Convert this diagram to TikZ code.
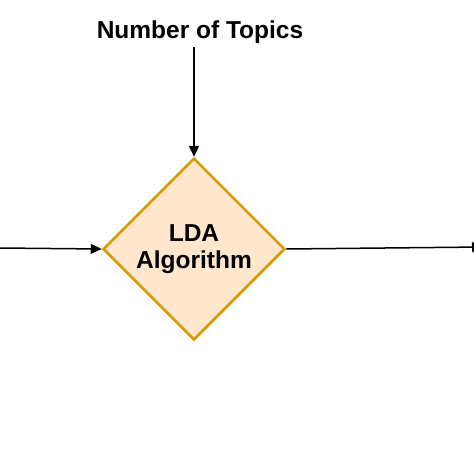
\documentclass[tikz,border=0pt]{standalone}
\usepackage{fontspec}
\setmainfont{Liberation Sans}
\usetikzlibrary{shapes.geometric,arrows.meta}
\definecolor{ldafill}{HTML}{FFE6CC}
\definecolor{ldaborder}{HTML}{D79B00}
\begin{document}
\begin{tikzpicture}[x=1pt,y=-1pt,
    >={Triangle[length=11pt,width=10pt]},
    etichetta/.style={font=\bfseries\fontsize{24.5}{27}\selectfont,align=center},
    freccia/.style={->,line width=1.5pt}]
    \useasboundingbox (0,0) rectangle (474,474);

    % Rombo dell'algoritmo
    \node[diamond,draw=ldaborder,fill=ldafill,line width=2.5pt,
          minimum width=182pt,minimum height=182pt,inner sep=0pt,etichetta]
          (lda) at (194,249) {LDA\\Algorithm};

    % Etichetta in alto
    \node[etichetta] (topics) at (200,32) {Number of Topics};

    % Estremi liberi delle frecce
    \coordinate (ingresso) at (0,248);
    \coordinate (uscita) at (483,247);

    % Frecce
    \draw[freccia] (lda.north |- topics.south) -- (lda.north);
    \draw[freccia] (ingresso) -- (lda.west);
    \draw[freccia] (lda.east) -- (uscita);

\end{tikzpicture}
\end{document}
